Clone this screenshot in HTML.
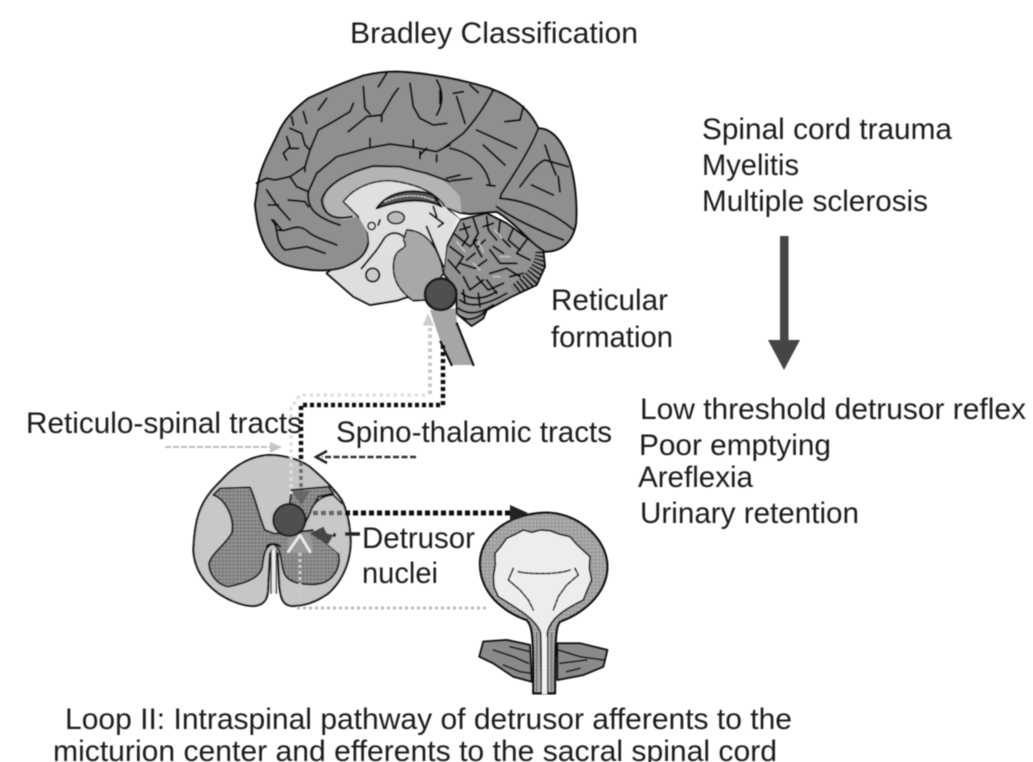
<!DOCTYPE html>
<html><head><meta charset="utf-8"><style>
html,body{margin:0;padding:0;background:#fff;width:1033px;height:762px;overflow:hidden}
svg{display:block}
text{font-family:"Liberation Sans",Arial,sans-serif;font-size:30px;fill:#1c1c1c}
</style></head><body>
<svg width="1033" height="762" viewBox="0 0 1033 762" xmlns="http://www.w3.org/2000/svg">
<defs>
<pattern id="st" width="11" height="11" patternUnits="userSpaceOnUse"><rect width="11" height="11" fill="#8a8a8a"/><rect x="1" y="2" width="4" height="3" fill="#5a5a5a"/><rect x="6" y="7" width="4" height="3" fill="#a8a8a8"/><rect x="7" y="1" width="2" height="2" fill="#707070"/></pattern>
<pattern id="st2" width="11" height="11" patternUnits="userSpaceOnUse"><rect width="11" height="11" fill="#a4a4a4"/><rect x="1" y="2" width="4" height="3" fill="#808080"/><rect x="6" y="7" width="4" height="3" fill="#bbb"/></pattern>
<clipPath id="cb"><path d="M640,640 L650,560 L690,480 L770,460 L830,490 L940,570 L945,620 L920,675 L845,710 L770,750 L760,775 L725,798 L680,760 L680,690 Z"/></clipPath>
<filter id="b" x="0" y="0" width="100%" height="100%"><feGaussianBlur stdDeviation="0.55"/></filter>
</defs>
<g filter="url(#b)">
<!-- brain -->
<g transform="translate(230,60) scale(0.3333)" stroke-linejoin="round" stroke-linecap="round">
<path d="M340,425 L640,435 L690,480 L650,560 L640,640 L590,700 L530,712 L500,722 L420,735 L370,710 L290,640 L340,600 Z" fill="#dedede" stroke="#111" stroke-width="6"/>
<path d="M600,750 L630,840 L665,915 L730,915 L680,790 L680,745 Z" fill="#a6a6a6"/>
<path d="M632,845 L665,915 M680,790 L730,915" stroke="#111" stroke-width="7" fill="none" stroke-dasharray="11 3"/>
<!-- cerebellum -->
<path d="M640,640 L650,560 L690,480 L770,460 L830,490 L940,570 L945,620 L920,675 L845,710 L770,750 L760,775 L725,798 L680,760 L680,690 Z" fill="#929292" stroke="#111" stroke-width="6"/>
<g clip-path="url(#cb)" fill="none" stroke-linecap="round">
<g stroke="#0c0c0c" stroke-width="6">
<path d="M700,490 L715,530 L695,560 M730,475 L745,520 L730,545 L755,590 M770,470 L775,510 L800,540 M810,485 L805,525 L840,560 M850,505 L835,540 L870,570 M890,540 L860,580 L900,600"/>
<path d="M660,560 L700,590 L680,620 M670,520 L720,560 L740,540 M690,610 L735,625 L770,600 M780,570 L810,610 L860,610 M780,640 L830,625 L870,650 M740,650 L775,690 L820,670 M700,650 L720,690 L760,660"/>
<path d="M655,600 L690,640 M720,500 L690,510 M760,500 L790,490 M820,580 L790,560 M880,640 L840,650 M800,700 L770,660 M735,580 L710,600 M765,540 L745,560"/>
<path d="M695,700 C720,720 760,720 800,695 M690,720 C720,745 770,735 830,700 M685,745 C720,770 760,755 790,735 M695,770 C715,785 745,775 765,755 M700,690 L705,730 M745,700 L750,740"/>
</g>
<path d="M945,575 C945,630 900,670 860,700" stroke="#111" stroke-width="58" stroke-dasharray="6 7" stroke-linecap="butt"/>
<g stroke="#c0c0c0" stroke-width="5">
<path d="M680,545 L705,575 M745,545 L760,575 M795,510 L815,535 M810,590 L840,590 M730,610 L750,630 M790,650 L810,650"/>
</g>
</g>
<path d="M640,440 L690,478 L650,550 L632,500 Z" fill="#eee"/>
<!-- cortex -->
<path d="M80,470 L75,435 L85,365 C95,320 110,290 140,230 C160,180 190,150 235,115 C285,92 330,72 400,47 C440,38 470,35 500,35 C590,38 700,60 780,85 C830,105 890,130 925,205 C970,205 1000,250 1020,310 C1035,360 1042,430 1038,490 C1030,540 1000,575 945,575 C900,550 860,490 800,455 L720,462 L690,458 L640,438 C620,400 560,370 480,362 C420,362 370,385 340,425 L385,470 C410,490 418,520 415,550 C405,590 380,605 340,622 C300,635 240,635 170,615 C120,600 90,540 80,470 Z" fill="#8f8f8f" stroke="#111" stroke-width="6.500" stroke-dasharray="34 3"/>
<path d="M345,480 C300,480 275,440 285,410 C300,360 370,325 450,318 C540,312 640,340 690,410 L695,458 L640,438 C620,400 560,370 480,362 C420,362 370,385 340,425 L385,470 Z" fill="#b4b4b4"/>
<path d="M340,425 C370,385 420,362 480,362 C560,370 620,400 645,440 L680,478 L650,550 L640,640 L590,700 L530,600 L420,570 L415,520 L385,470 Z" fill="#e0e0e0"/>
<path d="M385,470 L340,425 C370,385 420,362 480,362 C560,370 620,400 645,440" fill="none" stroke="#111" stroke-width="5" stroke-dasharray="18 5"/>
<path d="M530,510 C590,510 630,570 640,640 L585,720 L550,722 C500,690 480,640 495,590 C505,560 540,570 520,540 Z" fill="#a8a8a8" stroke="#111" stroke-width="5" stroke-dasharray="22 5"/>
<path d="M440,445 C470,400 540,380 610,405 L635,440 C590,415 520,415 440,445 Z" fill="#555" stroke="#111" stroke-width="6"/>
<path d="M465,425 C510,405 560,400 610,420" fill="none" stroke="#ccc" stroke-width="4" stroke-dasharray="6 5"/>
<ellipse cx="498" cy="473" rx="25" ry="18" fill="#bbb" stroke="#111" stroke-width="5"/>
<circle cx="428" cy="645" r="20" fill="#ccc" stroke="#111" stroke-width="6"/>
<circle cx="425" cy="498" r="11" fill="#ddd" stroke="#111" stroke-width="5"/>
<path d="M395,625 L440,570 L460,540 C470,520 500,510 520,530 M600,460 L640,490 L625,500 M590,500 L640,620 M610,440 L620,470 M450,480 L445,495" fill="none" stroke="#111" stroke-width="6" stroke-dasharray="16 4"/>
<!-- right side sulci -->
<g fill="none" stroke="#111" stroke-width="6">
<path d="M620,60 C645,100 635,140 620,165 M680,110 L705,190 M670,100 L700,95 M720,75 L745,98 M790,90 C770,130 745,170 700,220 L640,265 M880,140 L870,180 L825,185 M740,210 L860,265 M760,255 L825,315 M660,265 C730,280 770,320 780,375 M770,375 L795,378 M690,345 L650,355 M725,355 L665,362 M570,285 L590,265"/>
<path d="M925,205 C905,260 860,330 815,400 L810,415 C880,420 960,450 1032,510 M870,380 C900,340 920,310 945,300 L1015,320 M945,255 L960,300 L978,345 M905,375 L970,405 M800,440 C840,470 920,510 1000,540 M985,350 L990,395"/>
</g>
<path d="M578,797 L594,760 L612,797 Z" fill="#cfcfcf"/>
<circle cx="632" cy="703" r="47" fill="#505050" stroke="#1a1a1a" stroke-width="8"/>
</g>
<!-- left side sulci -->
<g transform="translate(250,70) scale(0.3333)" fill="none" stroke="#111" stroke-width="6" stroke-linecap="round" stroke-linejoin="round">
<path d="M20,340 L50,325 L75,330 L120,320 L165,290 L180,240 L205,180 L250,155 L300,125 L310,100"/>
<path d="M120,320 L140,350 L175,365"/>
<path d="M175,365 C170,410 190,440 270,465 M175,365 L200,310 L260,260 L350,235 L420,222 L490,232 L560,245 L600,225"/>
<path d="M215,390 C230,340 300,305 370,288 L450,290 L530,310 L600,335 M215,390 C220,440 260,450 305,440"/>
<path d="M50,360 L80,405 L120,450 M55,405 L85,405 M115,390 L165,395 L175,410 M70,450 L95,480"/>
<path d="M295,185 L350,140 L395,135 L430,75 L445,55 M340,50 L345,115 L360,132 M395,135 L395,155 M480,40 L490,110 L510,145 L550,165 L590,160 M385,50 L410,10 M570,60 L570,100"/>
<path d="M205,120 L230,85 M160,125 L170,160 M120,175 L155,190 L165,225 L180,240 M110,200 L120,230 L100,250 L110,270 M120,235 L145,235 M125,140 L130,165 M165,290 L165,305 M360,205 L360,230 M490,210 L490,232 M510,245 L510,265 M560,255 L560,275"/>
</g>
<!-- lower frontal sulci -->
<g transform="translate(230,60) scale(0.3333)" fill="none" stroke="#111" stroke-width="6" stroke-linecap="round">
<path d="M145,510 C175,520 200,480 240,520 C270,540 300,545 320,555 M125,480 C150,500 130,540 165,570 L230,560 L285,580"/>
</g>
<!-- spinal cord -->
<g transform="translate(185,450) scale(0.3333)" stroke-linejoin="round" stroke-linecap="round">
<path d="M25,300 C28,240 35,190 60,150 C75,125 90,110 110,90 C150,45 200,18 250,15 C300,15 350,30 380,55 C420,90 450,120 470,150 C490,190 497,240 497,280 C495,340 470,395 430,430 C395,455 360,468 320,468 C295,465 288,450 283,410 L278,310 L255,310 L250,400 C250,440 245,465 205,468 C170,468 130,450 100,430 C60,400 28,360 25,300 Z" fill="#c6c6c6" stroke="#111" stroke-width="6" stroke-dasharray="22 4"/>
<path d="M105,115 L195,112 C210,140 225,210 240,240 L265,250 L345,250 L375,190 L400,140 L445,130 L430,110 L320,120 L300,250 L385,240 C400,265 440,290 460,310 C470,350 445,395 400,402 C370,405 320,405 300,375 C285,350 295,300 265,282 C240,285 235,320 232,350 C225,385 180,400 130,410 C95,405 72,370 72,340 C80,310 120,280 140,250 C150,210 125,150 85,135 Z" fill="url(#st)" stroke="#111" stroke-width="5"/>
<path d="M385,240 L375,190 C385,150 420,135 445,135 L470,160 L490,260 L460,310 C440,290 400,265 385,240 Z" fill="#c8c8c8"/>
<path d="M375,190 C385,150 420,135 445,135 L470,160" fill="none" stroke="#111" stroke-width="5"/>
<path d="M85,135 C120,150 150,210 140,250 C120,285 80,310 72,340 L40,300 L45,190 Z" fill="#c8c8c8"/>
<path d="M85,135 C125,150 150,210 140,250 C120,285 80,310 72,340" fill="none" stroke="#111" stroke-width="5"/>
<rect x="258" y="300" width="16" height="130" fill="#eee"/>
<path d="M258,300 L258,430 M274,300 L274,430" stroke="#333" stroke-width="4"/>
<path d="M245,290 C250,280 280,280 285,290" fill="none" stroke="#111" stroke-width="6"/>
<path d="M320,125 L375,122 L350,165 Z" fill="#666"/>
<path d="M310,255 L375,250 L385,310 L310,310 Z" fill="#9a9a9a"/>
<path d="M310,305 L345,255 L375,305" fill="none" stroke="#eee" stroke-width="8"/>
<circle cx="313" cy="210" r="48" fill="#505050" stroke="#1a1a1a" stroke-width="6"/>
<path d="M375,250 L415,230 L425,250 L445,255 L430,282 L405,270 Z" fill="#444"/>
</g>
<!-- bladder -->
<g transform="translate(470,500) scale(0.3333)" stroke-linejoin="round" stroke-linecap="round">
<path d="M40,425 L110,420 L180,435 L185,545 L130,530 L70,490 L28,470 Z" fill="#8a8a8a" stroke="#111" stroke-width="6"/>
<path d="M262,430 L330,430 L412,450 L400,500 L340,525 L262,540 Z" fill="#8a8a8a" stroke="#111" stroke-width="6"/>
<path d="M70,450 L130,470 L175,490 M120,440 L180,455 M100,495 L150,515 L185,520 M265,450 L330,470 L400,480 M270,490 L350,480 M290,515 L330,505" fill="none" stroke="#111" stroke-width="5"/>
<path d="M170,360 C100,335 30,280 30,190 C30,110 110,40 230,38 C330,40 412,120 412,200 C412,280 340,340 270,365 C258,380 255,400 255,580 L190,580 C190,420 190,380 170,360 Z" fill="url(#st2)" stroke="#111" stroke-width="7" stroke-dasharray="20 3"/>
<path d="M215,580 L212,400 C200,360 150,330 85,290 L72,262 L70,230 L76,195 L75,160 L92,140 L110,115 L135,103 L160,90 L185,97 L212,90 L240,92 L270,103 L300,110 L322,135 L360,170 L358,205 L365,240 L352,270 L340,300 C300,320 240,350 232,400 L232,580 Z" fill="#ededed" stroke="#111" stroke-width="5"/>
<rect x="216" y="410" width="15" height="172" fill="#f2f2f2"/>
<path d="M145,215 C170,222 260,225 300,210 M130,205 L115,240 L150,270 L175,300 L190,330 M315,205 L325,225 L290,255 L265,290 L250,330" fill="none" stroke="#111" stroke-width="5" stroke-dasharray="12 5"/>
<path d="M200,400 L200,575 M245,400 L245,575" stroke="#666" stroke-width="4" stroke-dasharray="6 5"/>
</g>
<!-- connectors -->
<g fill="none">
<path d="M430,394 L430,328" stroke="#c8c8c8" stroke-width="4" stroke-dasharray="3.500 3.500"/>
<path d="M425,395 L300,395 L291,408 L291,494" stroke="#e0e0e0" stroke-width="3.500" stroke-dasharray="3.500 3.500"/>
<path d="M443,345 L443,405 L301,405 L301,460" stroke="#111" stroke-width="4.500" stroke-dasharray="4 3"/>
<path d="M301,462 L301,500" stroke="#666" stroke-width="3.500" stroke-dasharray="4 3"/>
<path d="M165,447 L270,447" stroke="#c0c0c0" stroke-width="2" stroke-dasharray="6 2"/>
<path d="M416,457 L322,457" stroke="#333" stroke-width="2.500" stroke-dasharray="6 2.500"/>
<path d="M327,451 L316,457 L327,463" stroke="#222" stroke-width="2.500"/>
<path d="M313,513 L345,513" stroke="#666" stroke-width="4.500" stroke-dasharray="5 3"/>
<path d="M345,513 L512,513" stroke="#111" stroke-width="5" stroke-dasharray="5 3"/>
<path d="M300,553 L300,600" stroke="#ccc" stroke-width="3" stroke-dasharray="3 3"/>
<path d="M297,608 L487,608" stroke="#bbb" stroke-width="3" stroke-dasharray="3 3"/>
<path d="M333,535 L336,535 M345,534 L360,534" stroke="#222" stroke-width="3.500"/>
</g>
<path d="M270,442 L282,447 L270,453 Z" fill="#c4c4c4"/>
<path d="M510,505 L528,513 L510,522 Z" fill="#222"/>
<rect x="780" y="236" width="8.500" height="105" fill="#444"/>
<path d="M768,340 L800,340 L784,370 Z" fill="#444"/>
<!-- labels -->
<text x="350" y="43" textLength="288" lengthAdjust="spacingAndGlyphs">Bradley Classification</text>
<text x="702" y="139" textLength="250" lengthAdjust="spacingAndGlyphs">Spinal cord trauma</text>
<text x="702" y="175" textLength="97" lengthAdjust="spacingAndGlyphs">Myelitis</text>
<text x="702" y="211" textLength="226" lengthAdjust="spacingAndGlyphs">Multiple sclerosis</text>
<text x="551" y="310" textLength="117" lengthAdjust="spacingAndGlyphs">Reticular</text>
<text x="551" y="347" textLength="122" lengthAdjust="spacingAndGlyphs">formation</text>
<text x="640" y="419" textLength="386" lengthAdjust="spacingAndGlyphs">Low threshold detrusor reflex</text>
<text x="639" y="455" textLength="192" lengthAdjust="spacingAndGlyphs">Poor emptying</text>
<text x="638" y="487" textLength="115" lengthAdjust="spacingAndGlyphs">Areflexia</text>
<text x="640" y="523" textLength="219" lengthAdjust="spacingAndGlyphs">Urinary retention</text>
<text x="26" y="433" textLength="276" lengthAdjust="spacingAndGlyphs">Reticulo-spinal tracts</text>
<text x="336" y="442" textLength="276" lengthAdjust="spacingAndGlyphs">Spino-thalamic tracts</text>
<text x="362" y="548" textLength="113" lengthAdjust="spacingAndGlyphs">Detrusor</text>
<text x="362" y="583" textLength="76" lengthAdjust="spacingAndGlyphs">nuclei</text>
<text x="65" y="729" textLength="727" lengthAdjust="spacingAndGlyphs">Loop II: Intraspinal pathway of detrusor afferents to the</text>
<text x="53" y="761" textLength="724" lengthAdjust="spacingAndGlyphs">micturion center and efferents to the sacral spinal cord</text>
</g>
</svg>
</body></html>
